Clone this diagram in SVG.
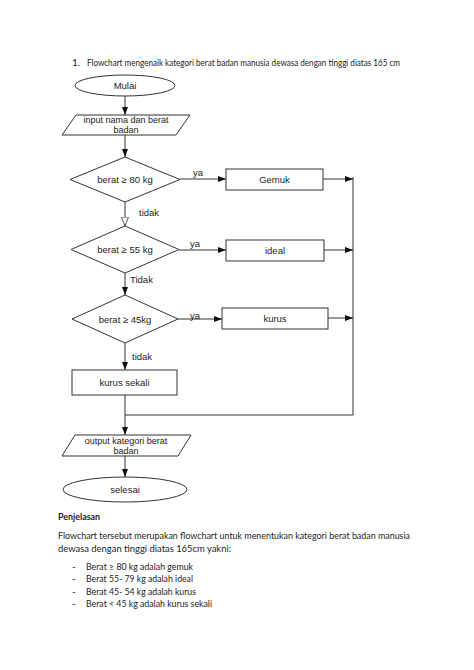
<svg xmlns="http://www.w3.org/2000/svg" width="474" height="670" viewBox="0 0 474 670">
<style>
.sh{fill:#fff;stroke:#333;stroke-width:1}
.ln{fill:none;stroke:#333;stroke-width:1}
.t{font-family:"Liberation Sans",Arial,sans-serif;font-size:9.5px;fill:#222;text-anchor:middle}
.t2{font-size:9px}
.lb{font-family:"Liberation Sans",Arial,sans-serif;font-size:9.5px;fill:#222}
.d{font-family:Lato,"Liberation Sans",sans-serif;font-size:10px;fill:#222}
.b{font-weight:bold}
</style>
<defs>
<marker id="a" viewBox="0 0 8 6" refX="8" refY="3" markerWidth="8" markerHeight="6" markerUnits="userSpaceOnUse" orient="auto"><path d="M0,0 L8,3 L0,6 z" fill="#111"/></marker>
<marker id="h" viewBox="0 0 10 8" refX="9.5" refY="4" markerWidth="10" markerHeight="8" markerUnits="userSpaceOnUse" orient="auto"><path d="M0.5,0.5 L9.5,4 L0.5,7.5 z" fill="#fff" stroke="#333" stroke-width="0.8"/></marker>
</defs>
<rect width="474" height="670" fill="#fff"/>
<text class="d" x="72" y="66">1.</text>
<text class="d" x="87" y="66" textLength="313" lengthAdjust="spacingAndGlyphs">Flowchart mengenaik kategori berat badan manusia dewasa dengan tinggi diatas 165 cm</text>

<g id="connectors">
<path class="ln" d="M125,96 V115" marker-end="url(#a)"/>
<path class="ln" d="M125,135 V157" marker-end="url(#a)"/>
<path class="ln" d="M180,179 H226" marker-end="url(#a)"/>
<path class="ln" d="M125,202 V226" marker-end="url(#h)"/>
<path class="ln" d="M179,250 H226" marker-end="url(#a)"/>
<path class="ln" d="M125,273 V295" marker-end="url(#a)"/>
<path class="ln" d="M178,319 H222" marker-end="url(#a)"/>
<path class="ln" d="M125,343 V370" marker-end="url(#a)"/>
<path class="ln" d="M323,179 H353" marker-end="url(#a)"/>
<path class="ln" d="M324,250 H353" marker-end="url(#a)"/>
<path class="ln" d="M328,318 H353" marker-end="url(#a)"/>
<path class="ln" d="M353,177 V415 H125"/>
<path class="ln" d="M125,395 V435" marker-end="url(#a)"/>
<path class="ln" d="M125,456 V477" marker-end="url(#a)"/>
<text class="lb" x="193" y="176">ya</text>
<text class="lb" x="139" y="216">tidak</text>
<text class="lb" x="190" y="247">ya</text>
<text class="lb" x="130" y="283">Tidak</text>
<text class="lb" x="190" y="319">ya</text>
<text class="lb" x="132" y="360">tidak</text>
</g>

<g id="mulai"><ellipse class="sh" cx="125" cy="85.5" rx="50" ry="10.5"/><text class="t" x="125" y="89">Mulai</text></g>
<g id="input"><polygon class="sh" points="76,115 190,115 176,135 62,135"/><text class="t t2" x="126" y="123">input nama dan berat</text><text class="t t2" x="126" y="133">badan</text></g>
<g id="d80"><polygon class="sh" points="125,157 180,179.5 125,202 70,179.5"/><text class="t" x="125" y="183">berat ≥ 80 kg</text></g>
<g id="gemuk"><rect class="sh" x="226" y="169" width="97" height="21"/><text class="t" x="274.5" y="183">Gemuk</text></g>
<g id="d55"><polygon class="sh" points="125,226 179,249.5 125,273 71,249.5"/><text class="t" x="125" y="253">berat ≥ 55 kg</text></g>
<g id="ideal"><rect class="sh" x="226" y="240" width="98" height="21"/><text class="t" x="275" y="254">ideal</text></g>
<g id="d45"><polygon class="sh" points="125,295 178,319 125,343 72,319"/><text class="t" x="125" y="322.5">berat ≥ 45kg</text></g>
<g id="kurus"><rect class="sh" x="222" y="308" width="106" height="21"/><text class="t" x="275" y="322">kurus</text></g>
<g id="kurussekali"><rect class="sh" x="72" y="370" width="105" height="25"/><text class="t" x="124.5" y="386">kurus sekali</text></g>
<g id="output"><polygon class="sh" points="75,435 191,435 178,456 62,456"/><text class="t t2" x="126" y="443.5">output kategori berat</text><text class="t t2" x="126" y="453.5">badan</text></g>
<g id="selesai"><ellipse class="sh" cx="125" cy="489.5" rx="62" ry="12.5"/><text class="t" x="125" y="493">selesai</text></g>

<text class="d b" x="58" y="520" textLength="42" lengthAdjust="spacingAndGlyphs">Penjelasan</text>
<text class="d" x="58" y="539" textLength="352" lengthAdjust="spacingAndGlyphs">Flowchart tersebut merupakan flowchart untuk menentukan kategori berat badan manusia</text>
<text class="d" x="58" y="551.5" textLength="173" lengthAdjust="spacingAndGlyphs">dewasa  dengan tinggi diatas 165cm yakni:</text>
<text class="d" x="72" y="569.5">-</text>
<text class="d" x="86" y="569.5" textLength="107" lengthAdjust="spacingAndGlyphs">Berat ≥ 80 kg adalah gemuk</text>
<text class="d" x="72" y="582">-</text>
<text class="d" x="86" y="582" textLength="107" lengthAdjust="spacingAndGlyphs">Berat 55- 79 kg adalah ideal</text>
<text class="d" x="72" y="594.5">-</text>
<text class="d" x="86" y="594.5" textLength="110" lengthAdjust="spacingAndGlyphs">Berat 45- 54 kg adalah kurus</text>
<text class="d" x="72" y="607">-</text>
<text class="d" x="86" y="607" textLength="126" lengthAdjust="spacingAndGlyphs">Berat &lt; 45 kg adalah kurus sekali</text>
</svg>
